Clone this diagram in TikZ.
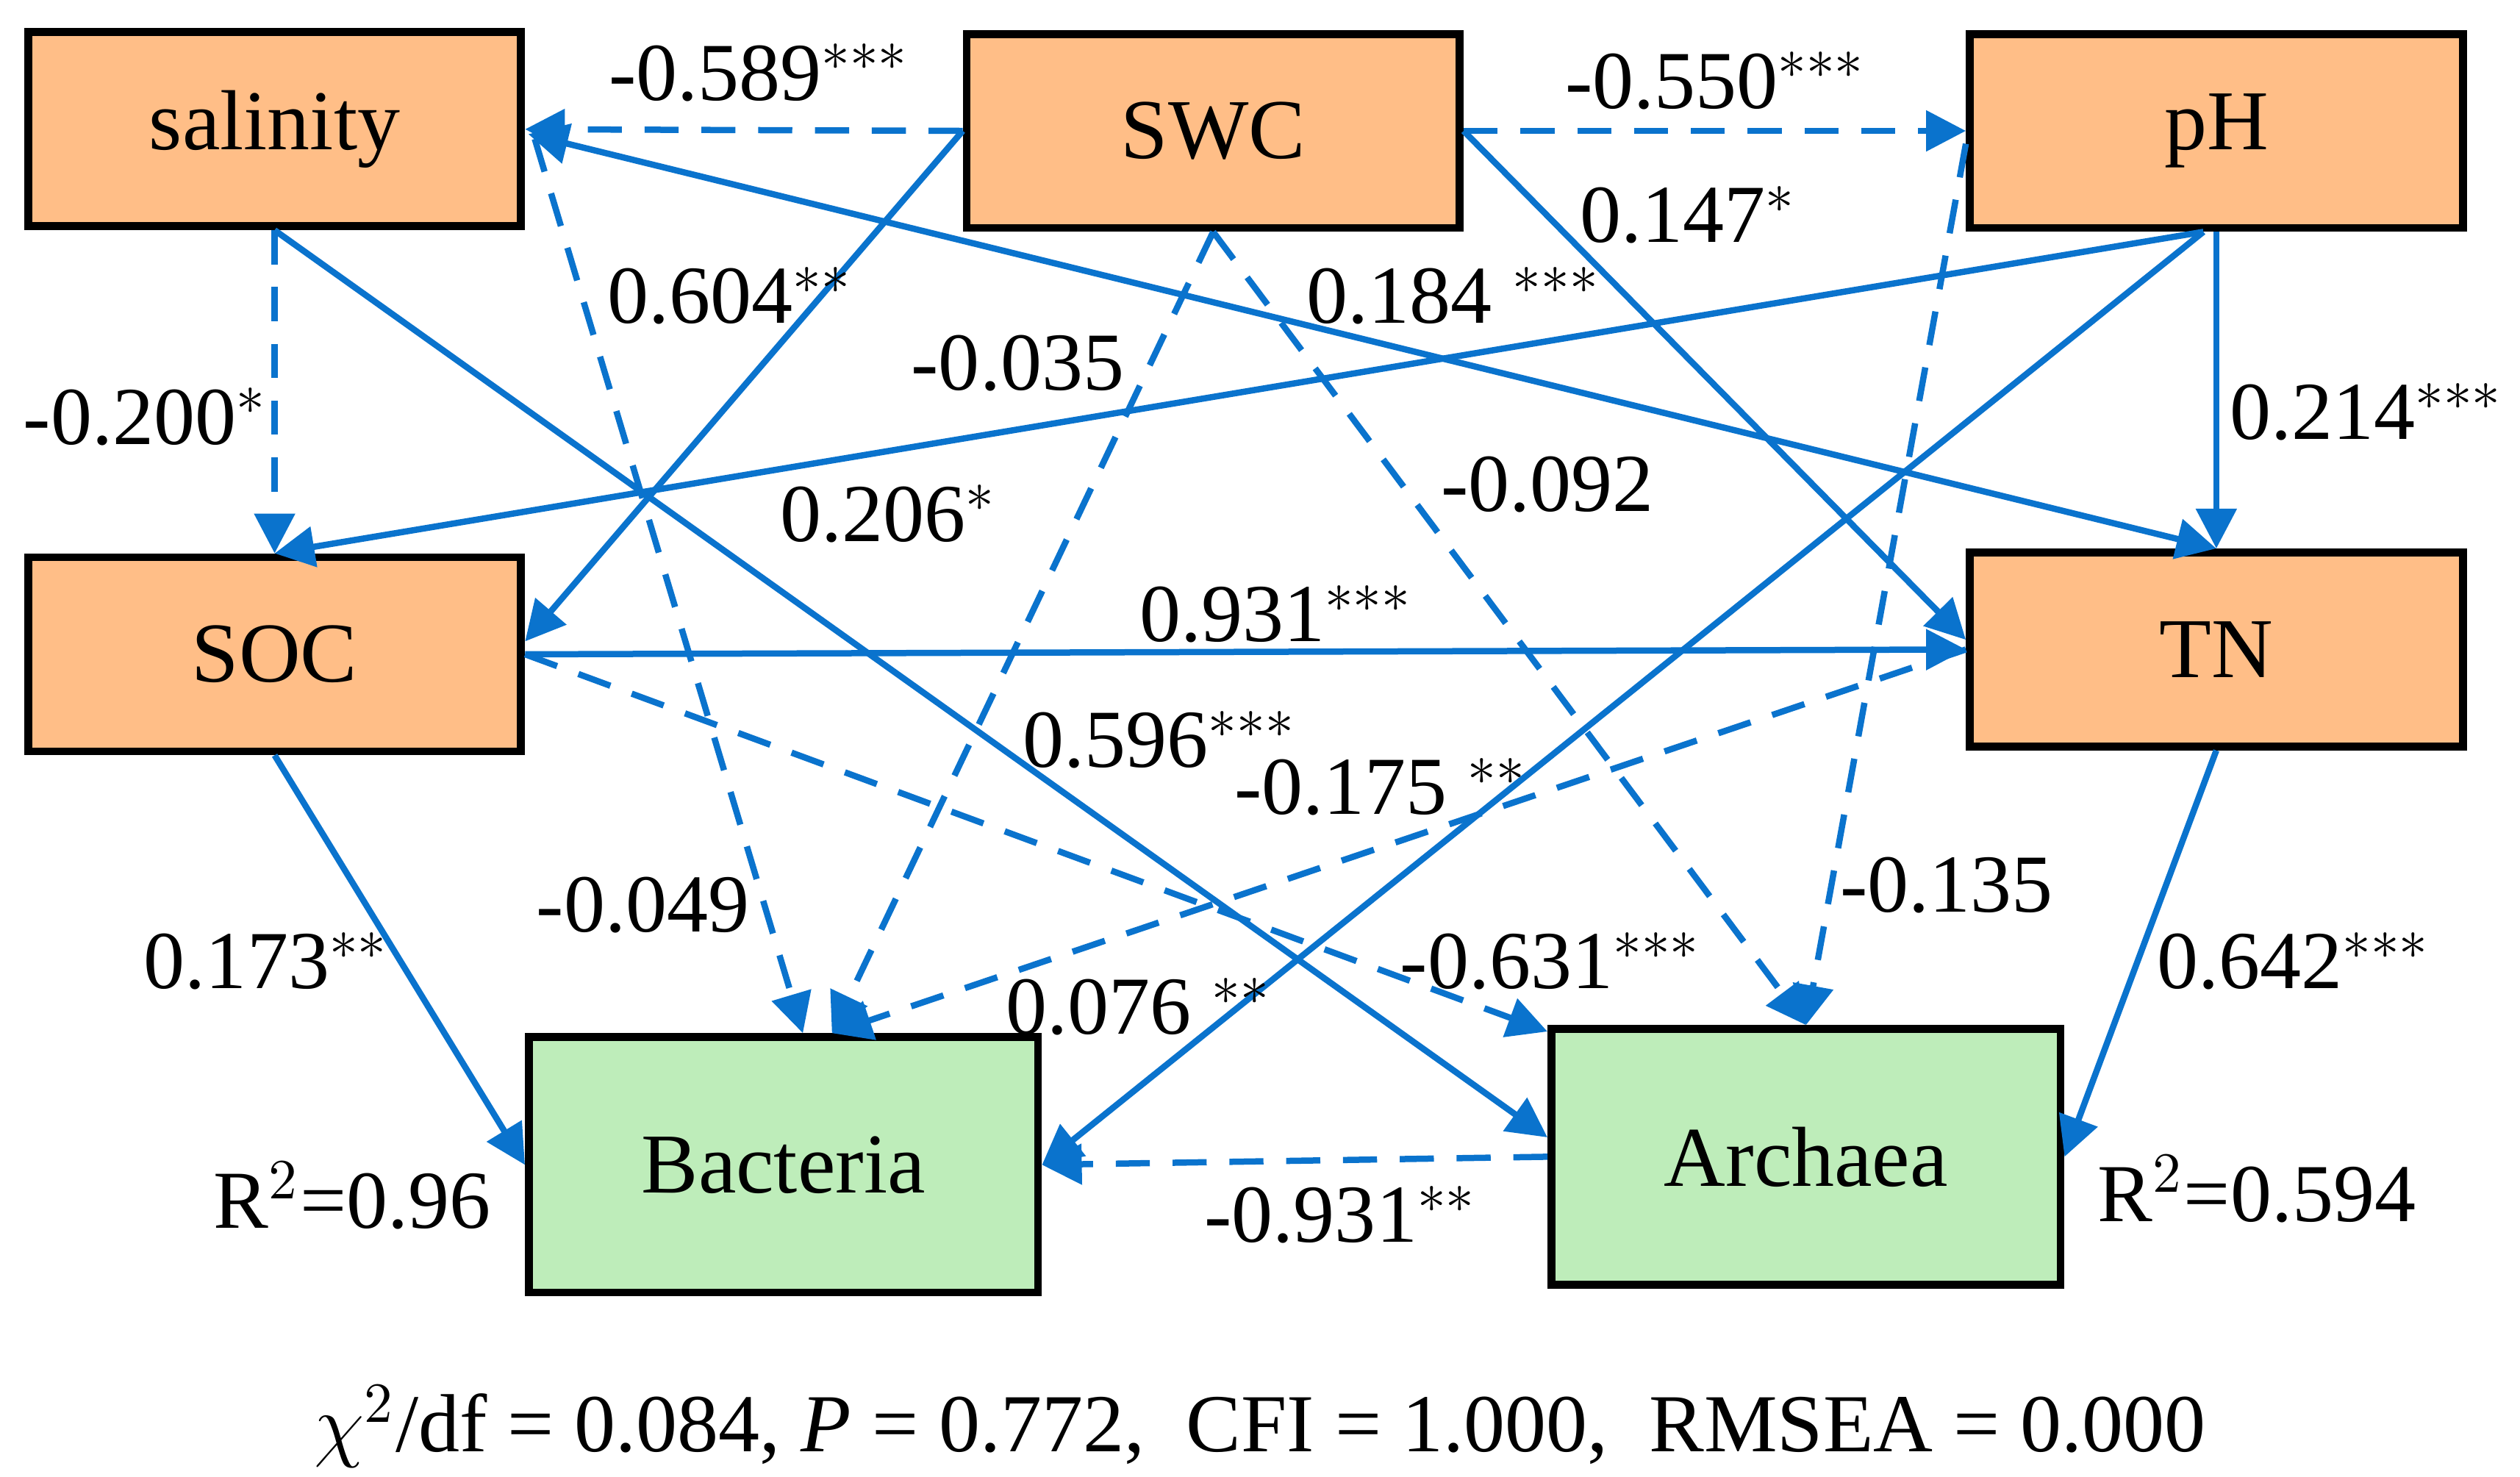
\documentclass[tikz,border=0pt]{standalone}
\usepackage{fontspec}
\setmainfont{Liberation Serif}
\usetikzlibrary{arrows.meta,calc}
\begin{document}
\begin{tikzpicture}[x=0.01cm,y=-0.01cm,
 box/.style={draw=black,line width=1.4pt,minimum width=3.05cm,minimum height=1.2cm,font=\fontsize{15}{18}\selectfont},
 env/.style={box,fill={rgb,255:red,255;green,190;blue,135}},
 mic/.style={box,fill={rgb,255:red,190;green,237;blue,186},minimum width=3.15cm,minimum height=1.58cm},
 ar/.style={draw={rgb,255:red,10;green,115;blue,205},line width=1.1pt,-{Triangle[length=7pt,width=7pt]}},
 da/.style={ar,dash pattern=on 6pt off 4pt},
 lb/.style={font=\fontsize{14.5}{18}\selectfont,inner sep=1pt}]
\useasboundingbox (0,0) rectangle (1560,914);
\node[env] (sal) at (170,80) {salinity};
\node[env] (swc) at (751,81) {SWC};
\node[env] (ph) at (1372,81) {pH};
\node[env] (soc) at (170,405) {SOC};
\node[env] (tn) at (1372,402) {TN};
\node[mic] (bac) at (485,721) {Bacteria};
\node[mic] (arc) at (1118,716) {Archaea};
\coordinate (bacT) at ($(bac.north)+(30,0)$);
\draw[da] (swc.west) -- (sal.east);
\draw[da] (swc.east) -- (ph.west);
\draw[da] (sal.south) -- (soc.north);
\draw[ar] (swc.west) -- ($(soc.east)+(0,-8)$);
\draw[ar,{Triangle[length=7pt,width=7pt]}-{Triangle[length=7pt,width=7pt]}] ($(sal.east)+(2,3)$) -- (tn.north);
\draw[ar] (sal.south) -- ($(arc.west)+(0,-12)$);
\draw[da] ($(sal.east)+(6,6)$) -- ($(bac.north)+(12,0)$);
\draw[da] (swc.south) -- (bacT);
\draw[da] (swc.south) -- (arc.north);
\draw[ar] (swc.east) -- ($(tn.west)+(0,-6)$);
\draw[ar] ($(ph.south)+(-8,0)$) -- (soc.north);
\draw[ar] (ph.south) -- (tn.north);
\draw[ar] ($(ph.south)+(-8,0)$) -- (bac.east);
\draw[ar] (soc.east) -- (tn.west);
\draw[da] (soc.east) -- ($(arc.north west)+(0,4)$);
\draw[da] (tn.west) -- (bacT);
\draw[ar] (soc.south) -- (bac.west);
\draw[ar] (tn.south) -- (arc.east);
\draw[da] (arc.west) -- (bac.east);
\draw[da] ($(ph.west)+(0,8)$) -- (arc.north);
\node[lb] at (470,45) {-0.589$^{***}$};
\node[lb] at (1062,50) {-0.550$^{***}$};
\node[lb] at (90,258) {-0.200$^{*}$};
\node[lb] at (452,183) {0.604$^{**}$};
\node[lb] at (900,183) {0.184 $^{***}$};
\node[lb] at (630,225) {-0.035};
\node[lb] at (1045,133) {0.147$^{*}$};
\node[lb] at (550,318) {0.206$^{*}$};
\node[lb] at (958,300) {-0.092};
\node[lb] at (1465,255) {0.214$^{***}$};
\node[lb] at (790,380) {0.931$^{***}$};
\node[lb] at (718,458) {0.596$^{***}$};
\node[lb] at (855,487) {-0.175 $^{**}$};
\node[lb] at (398,560) {-0.049};
\node[lb] at (1205,548) {-0.135};
\node[lb] at (165,595) {0.173$^{**}$};
\node[lb] at (705,623) {0.076 $^{**}$};
\node[lb] at (960,595) {-0.631$^{***}$};
\node[lb] at (1420,595) {0.642$^{***}$};
\node[lb] at (830,752) {-0.931$^{**}$};
\node[lb] at (218,740) {R$^2$=0.96};
\node[lb] at (1397,736) {R$^2$=0.594};
\node[lb] at (780,883) {$\chi^2$/df = 0.084, \textit{P} = 0.772,\ \ CFI = 1.000,\ \ RMSEA = 0.000};
\end{tikzpicture}
\end{document}
